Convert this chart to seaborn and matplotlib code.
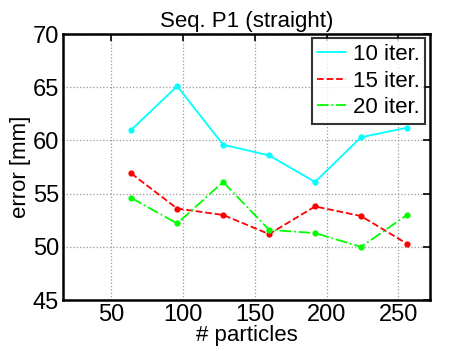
import matplotlib
matplotlib.use("Agg")
import matplotlib.pyplot as plt
import pandas as pd
import seaborn as sns

particles = [64, 96, 128, 160, 192, 224, 256]
err_10 = [61.0, 65.1, 59.6, 58.6, 56.1, 60.3, 61.2]
err_15 = [56.9, 53.6, 53.0, 51.2, 53.8, 52.9, 50.3]
err_20 = [54.6, 52.2, 56.1, 51.6, 51.3, 50.0, 53.0]
labels = ["10 iter.", "15 iter.", "20 iter."]

df = pd.DataFrame({
    "particles": particles * 3,
    "error": err_10 + err_15 + err_20,
    "series": [labels[0]] * 7 + [labels[1]] * 7 + [labels[2]] * 7,
})

sns.set_style("white")
plt.rcParams["font.family"] = ["Liberation Sans", "DejaVu Sans"]
plt.rcParams["text.color"] = "black"
plt.rcParams["axes.labelcolor"] = "black"
plt.rcParams["xtick.color"] = "black"
plt.rcParams["ytick.color"] = "black"

fig = plt.figure(figsize=(4.74, 3.51), dpi=100)
ax = fig.add_axes([0.133, 0.145, 0.774, 0.758])

palette = {labels[0]: "#00ffff", labels[1]: "#ff0000", labels[2]: "#00ff00"}
styles = {labels[0]: "-", labels[1]: "--", labels[2]: "-."}
for lab in labels:
    sub = df[df.series == lab]
    sns.lineplot(data=sub, x="particles", y="error", ax=ax, color=palette[lab],
                 linestyle=styles[lab], marker="o", markersize=4.5,
                 markeredgewidth=0, linewidth=1.3, label=lab)

ax.set_xlim(16.5, 272)
ax.set_ylim(45, 70)
ax.set_xticks([50, 100, 150, 200, 250])
ax.set_yticks([45, 50, 55, 60, 65, 70])
ax.grid(True, color="#999999", linestyle=":", linewidth=0.9)
for s in ax.spines.values():
    s.set_color("black")
    s.set_linewidth(1.8)
ax.tick_params(direction="in", length=5, width=1.2, top=True, right=True,
               labelsize=17, pad=3)
ax.set_title("Seq. P1 (straight)", fontsize=16, pad=5)
ax.set_xlabel("# particles", fontsize=16, labelpad=-1)
ax.set_ylabel("error [mm]", fontsize=16, labelpad=1)

leg = ax.legend(loc="upper right", fontsize=16, frameon=True, fancybox=False,
                edgecolor="black", borderaxespad=0.2, handlelength=1.3,
                handletextpad=0.3, borderpad=0.25, labelspacing=0.25)
leg.get_frame().set_linewidth(1.5)
for h in leg.get_lines():
    h.set_marker("")

fig.savefig("out.png", dpi=100)
